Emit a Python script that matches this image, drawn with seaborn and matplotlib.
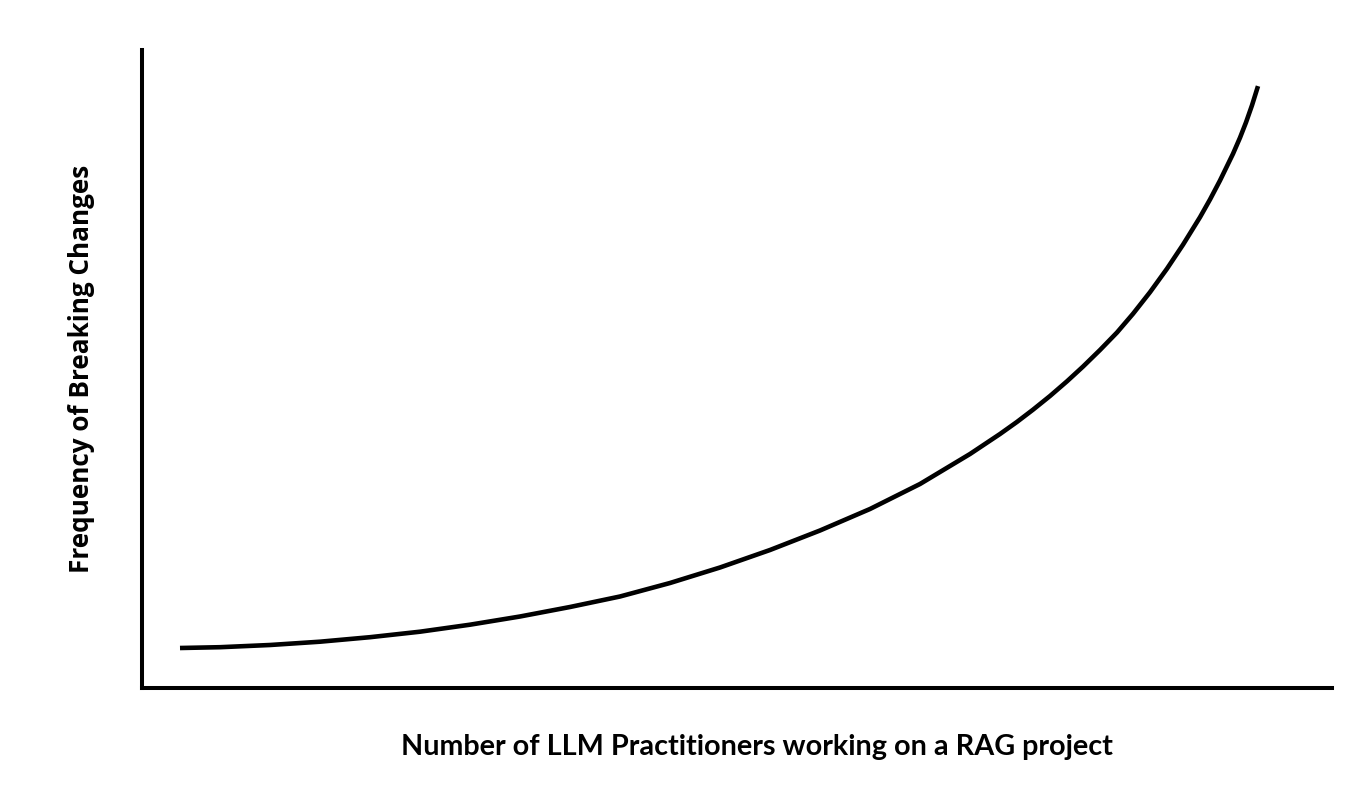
import matplotlib
matplotlib.use("Agg")
import matplotlib.pyplot as plt
import seaborn as sns
import pandas as pd

# Values (arbitrary units)
practitioners = [3.8, 7.8, 12.8, 17.8, 22.8, 27.8, 32.8, 37.8, 42.8, 47.8, 52.8,
                 57.8, 62.8, 67.8, 72.8, 77.8, 82.8, 85.8, 87.5, 89.1, 90.8,
                 92.5, 94.1, 95.8, 97.5, 99.1, 100.8, 102.5, 104.1, 105.8, 106.8,
                 107.8, 109.1, 109.8, 110.4, 111.0, 111.6]
breaking_changes = [4.0, 4.08, 4.3, 4.63, 5.08, 5.63, 6.33, 7.15, 8.1, 9.15, 10.5,
                    12.05, 13.8, 15.75, 17.9, 20.4, 23.4, 25.4, 26.61, 27.83, 29.2,
                    30.67, 32.14, 33.8, 35.55, 37.42, 39.58, 41.93, 44.33, 47.08, 48.85,
                    50.75, 53.42, 55.03, 56.56, 58.27, 60.19]

df = pd.DataFrame({"x": practitioners, "y": breaking_changes})

sns.set_theme(style="white")
plt.rcParams["font.family"] = ["Lato", "DejaVu Sans"]

fig = plt.figure(figsize=(13.58, 7.92), dpi=100)
ax = fig.add_axes([142 / 1358, 1 - 688 / 792, (1332 - 142) / 1358, (688 - 50) / 792])

sns.lineplot(data=df, x="x", y="y", ax=ax, color="black", linewidth=3.3,
             solid_capstyle="butt", solid_joinstyle="round")

ax.set_xlim(0, 119)
ax.set_ylim(0, 63.8)
ax.set_xticks([])
ax.set_yticks([])
for s in ["top", "right"]:
    ax.spines[s].set_visible(False)
for s in ["left", "bottom"]:
    ax.spines[s].set_color("black")
    ax.spines[s].set_linewidth(2.9)

ax.set_xlabel("Number of LLM Practitioners working on a RAG project",
              fontsize=20.7, fontweight="bold", color="black", labelpad=33)
ax.xaxis.label.set_x(0.517)
ax.set_ylabel("Frequency of Breaking Changes", family=["Open Sans", "DejaVu Sans"],
              fontsize=18.8, fontweight="bold", color="black", labelpad=34)

fig.savefig("out.png", dpi=100, facecolor="white")
